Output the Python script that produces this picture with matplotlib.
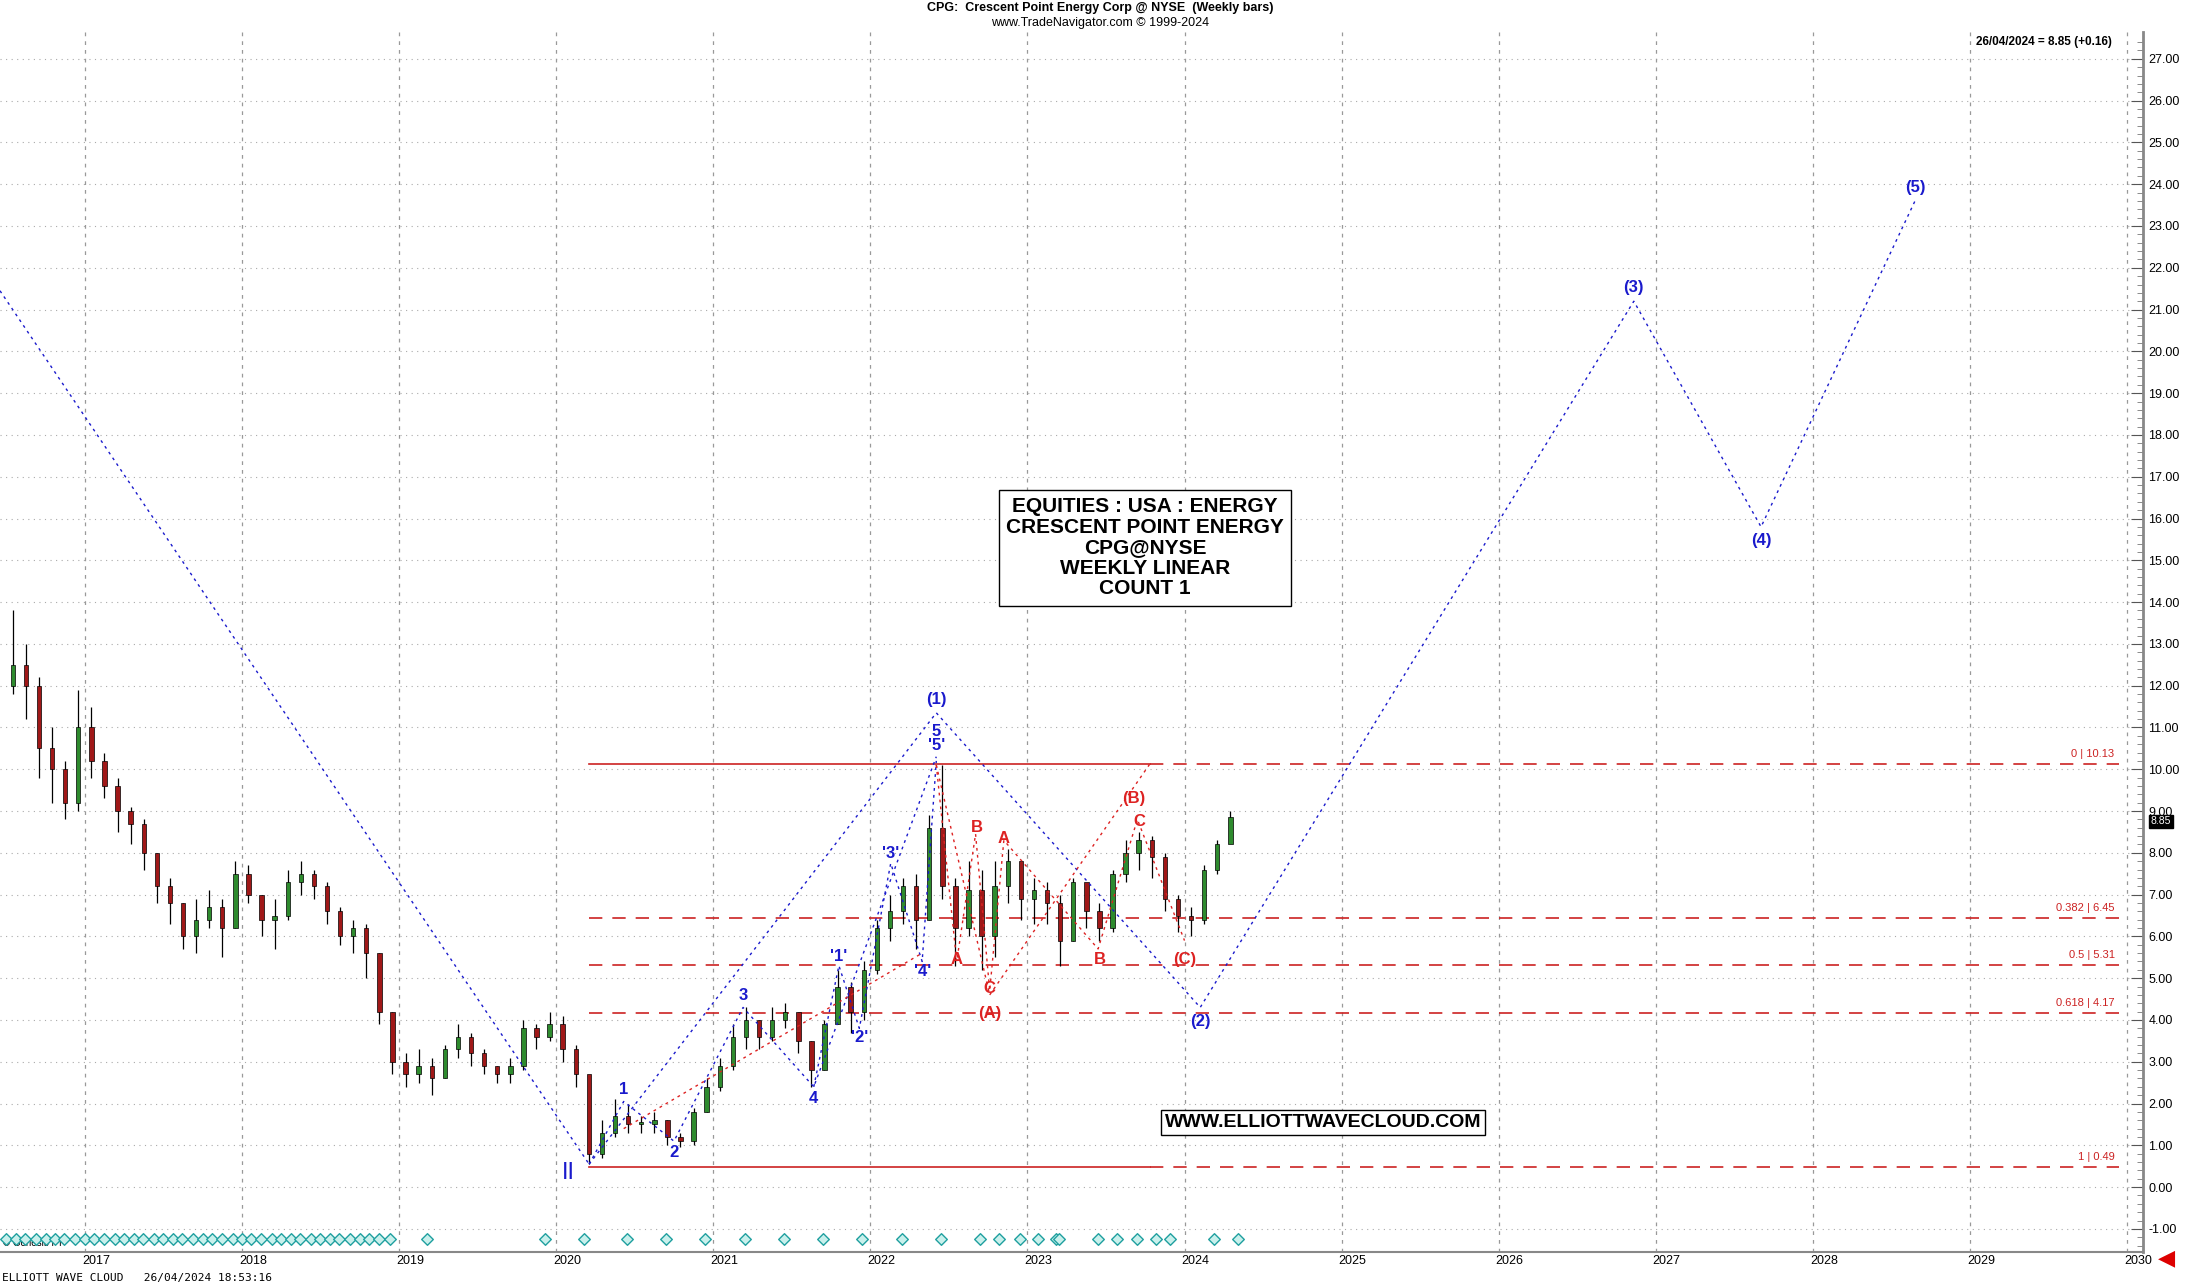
import matplotlib
matplotlib.use("Agg")
import matplotlib.pyplot as plt
from matplotlib.patches import Rectangle

plt.rcParams['font.family'] = ['Liberation Sans', 'DejaVu Sans']

# ---- data (monthly approximations of the weekly bars) ----
start_year, start_month = 2016, 7
highs = [13.8,13.0,12.2,11.0,10.2,11.9,
 11.5,10.4,9.8,9.1,8.8,8.0,7.4,6.8,6.9,7.1,6.9,7.8,
 7.7,7.0,6.9,7.6,7.8,7.6,7.3,6.7,6.4,6.3,5.6,4.2,
 3.2,3.3,3.1,3.4,3.9,3.7,3.3,2.9,3.1,4.0,3.9,4.2,
 4.1,3.4,2.6,1.6,2.1,2.0,1.7,1.8,1.6,1.3,1.9,2.6,
 3.1,3.9,4.3,4.0,4.3,4.4,4.2,3.5,4.0,5.2,4.9,5.4,
 6.4,7.0,7.4,7.5,8.9,10.1,7.4,7.8,7.6,7.8,8.1,7.8,
 7.4,7.3,7.0,7.4,7.2,6.8,7.6,8.3,8.5,8.4,8.0,7.0,
 6.7,7.7,8.3,9.0]
lows = [11.8,11.2,9.8,9.2,8.8,9.0,
 9.8,9.3,8.5,8.2,7.6,6.8,6.3,5.7,5.6,6.2,5.5,6.2,
 6.8,6.0,5.7,6.4,7.0,6.9,6.3,5.8,5.6,5.0,3.9,2.7,
 2.4,2.5,2.2,2.6,3.1,2.9,2.7,2.5,2.5,2.8,3.3,3.5,
 3.0,2.4,0.55,0.7,1.2,1.3,1.3,1.3,1.0,0.95,1.0,1.8,
 2.3,2.8,3.3,3.3,3.5,3.8,3.2,2.4,2.8,3.9,3.7,4.0,
 5.1,5.9,6.3,5.7,6.4,6.9,5.3,6.0,5.2,5.5,6.8,6.4,
 6.3,6.3,5.3,5.9,6.2,5.9,6.1,7.3,7.6,7.4,6.6,6.1,
 6.0,6.3,7.5,8.3]
closes = [12.5,12.0,10.5,10.0,9.2,11.0,
 10.2,9.6,9.0,8.7,8.0,7.2,6.8,6.0,6.4,6.7,6.2,7.5,
 7.0,6.4,6.5,7.3,7.5,7.2,6.6,6.0,6.2,5.6,4.2,3.0,
 2.7,2.9,2.6,3.3,3.6,3.2,2.9,2.7,2.9,3.8,3.6,3.9,
 3.3,2.7,0.8,1.3,1.7,1.5,1.5,1.6,1.2,1.1,1.8,2.4,
 2.9,3.6,4.0,3.6,4.0,4.2,3.5,2.8,3.9,4.8,4.2,5.2,
 6.2,6.6,7.2,6.4,8.6,7.2,6.2,7.1,6.0,7.2,7.8,6.9,
 7.1,6.8,5.9,7.3,6.6,6.2,7.5,8.0,8.3,7.9,6.9,6.5,
 6.4,7.6,8.2,8.85]
first_open = 12.0

# Elliott wave paths (time in decimal years, price)
big_a_t = [2016.46, 2020.21]; big_a_p = [21.45, 0.55]
major_t = [2020.21, 2022.42, 2024.10, 2026.86, 2027.67, 2028.65]
major_p = [0.55, 11.35, 4.30, 21.20, 15.80, 23.60]
major_lbl = ["", "(1)", "(2)", "(3)", "(4)", "(5)"]
minor_t = [2020.21, 2020.43, 2020.75, 2021.19, 2021.64, 2022.42]
minor_p = [0.55, 2.05, 1.10, 4.30, 2.40, 10.30]
minor_lbl = ["", "1", "2", "3", "4", "5"]
sub_t = [2021.64, 2021.80, 2021.93, 2022.13, 2022.33, 2022.42]
sub_p = [2.40, 5.30, 3.80, 7.75, 5.40, 10.20]
sub_lbl = ["", "'1'", "'2'", "'3'", "'4'", "'5'"]
corr_t = [2022.42, 2022.55, 2022.67, 2022.76, 2022.85, 2023.45, 2023.70, 2024.00]
corr_p = [10.10, 5.40, 8.45, 4.70, 8.30, 5.70, 8.80, 5.90]
corr_lbl = [("A", 2022.55, 5.45), ("B", 2022.68, 8.6), ("C", 2022.76, 4.75),
            ("(A)", 2022.76, 4.15), ("A", 2022.85, 8.35), ("B", 2023.46, 5.45),
            ("C", 2023.71, 8.75), ("(B)", 2023.68, 9.3), ("(C)", 2024.00, 5.45)]
chan1_t = [2022.76, 2023.78]; chan1_p = [4.60, 10.13]
chan2_t = [2020.43, 2022.33]; chan2_p = [1.40, 5.60]
chan3_t = [2022.42, 2022.76]; chan3_p = [10.10, 4.60]

fib_levels = [10.13, 6.45, 5.31, 4.17, 0.49]
fib_names = ["0", "0.382", "0.5", "0.618", "1"]

diamond_t = [2016.50,2016.56,2016.62,2016.69,2016.75,2016.81,2016.87,2016.94,
 2017.00,2017.06,2017.12,2017.19,2017.25,2017.31,2017.37,2017.44,2017.50,2017.56,
 2017.62,2017.69,2017.75,2017.81,2017.87,2017.94,2018.00,2018.06,2018.12,2018.19,
 2018.25,2018.31,2018.37,2018.44,2018.50,2018.56,2018.62,2018.69,2018.75,2018.81,
 2018.87,2018.94,2019.18,2019.93,2020.18,2020.45,2020.70,2020.95,2021.20,2021.45,
 2021.70,2021.95,2022.20,2022.45,2022.70,2022.82,2022.95,2023.07,2023.18,2023.20,
 2023.45,2023.57,2023.70,2023.82,2023.91,2024.19,2024.34]

years = list(range(2017, 2031))

# ---- figure ----
fig = plt.figure(figsize=(21.91, 12.84), dpi=100)
ax = fig.add_axes([0.0, 0.025, 0.978, 0.95])
ax.set_xlim(2016.46, 2030.1)
ax.set_ylim(-1.55, 27.64)

for y in range(-1, 28):
    ax.axhline(y, color="#aaaaaa", lw=0.8, ls=(0, (1, 4)), zorder=0)
for yr in years:
    ax.axvline(yr, color="#999999", lw=0.9, ls=(0, (3, 4)), zorder=0)

n = len(closes)
opens = [first_open] + closes[:-1]
for i in range(n):
    m = start_month - 1 + i
    t = start_year + m // 12 + (m % 12 + 0.5) / 12
    o, c, h, l = opens[i], closes[i], highs[i], lows[i]
    col = "#2e8b2e" if c >= o else "#a01818"
    ax.vlines(t, l, h, color="black", lw=0.9, zorder=3)
    ax.add_patch(Rectangle((t - 0.014, min(o, c)), 0.028, max(abs(c - o), 0.05),
                           facecolor=col, edgecolor="black", lw=0.5, zorder=4))

for lv, nm in zip(fib_levels, fib_names):
    if nm in ("0", "1"):
        ax.plot([2020.21, 2023.78], [lv, lv], color="#cc2222", lw=1.2, zorder=2)
        ax.plot([2023.78, 2029.95], [lv, lv], color="#cc2222", lw=1.2, ls=(0, (8, 6)), zorder=2)
    else:
        ax.plot([2020.21, 2029.95], [lv, lv], color="#cc2222", lw=1.2, ls=(0, (8, 6)), zorder=2)
    ax.text(2029.92, lv + 0.12, f"{nm} | {lv:.2f}", color="#cc2222", fontsize=8,
            ha="right", va="bottom", zorder=6)

blue = "#1a1acc"; red = "#dd2222"
dot = (0, (2, 3))
ax.plot(big_a_t, big_a_p, color=blue, lw=1, ls=dot, zorder=5)
ax.plot(major_t, major_p, color=blue, lw=1, ls=dot, zorder=5)
ax.plot(minor_t, minor_p, color=blue, lw=1, ls=dot, zorder=5)
ax.plot(sub_t, sub_p, color=blue, lw=1, ls=dot, zorder=5)
ax.plot(corr_t, corr_p, color=red, lw=1, ls=dot, zorder=5)
for tt, pp in [(chan1_t, chan1_p), (chan2_t, chan2_p), (chan3_t, chan3_p)]:
    ax.plot(tt, pp, color=red, lw=1, ls=dot, zorder=5)

lbl_kw = dict(fontsize=12, fontweight="bold", ha="center", zorder=7)
for t, p, s in zip(major_t, major_p, major_lbl):
    if s in ("(2)", "(4)"):
        ax.text(t, p - 0.15, s, color=blue, va="top", **lbl_kw)
    elif s:
        ax.text(t, p + 0.15, s, color=blue, va="bottom", **lbl_kw)
for t, p, s in zip(minor_t, minor_p, minor_lbl):
    if s in ("2", "4"):
        ax.text(t, p - 0.1, s, color=blue, va="top", **lbl_kw)
    elif s == "5":
        ax.text(t, 10.9, s, color=blue, va="center", **lbl_kw)
    elif s:
        ax.text(t, p + 0.1, s, color=blue, va="bottom", **lbl_kw)
for t, p, s in zip(sub_t, sub_p, sub_lbl):
    if s in ("'2'", "'4'"):
        ax.text(t, p - 0.05, s, color=blue, va="top", **lbl_kw)
    elif s == "'5'":
        ax.text(t, 10.4, s, color=blue, va="bottom", **lbl_kw)
    elif s:
        ax.text(t, p + 0.05, s, color=blue, va="bottom", **lbl_kw)
for s, t, p in corr_lbl:
    ax.text(t, p, s, color=red, va="center", **lbl_kw)
ax.text(2020.08, 0.35, "II", color=blue, fontsize=17, ha="center", va="center", zorder=7)

narrow = ['Liberation Sans Narrow', 'Liberation Sans', 'DejaVu Sans']
ax.text(2023.75, 15.3, "EQUITIES : USA : ENERGY\nCRESCENT POINT ENERGY\nCPG@NYSE\nWEEKLY LINEAR\nCOUNT 1",
        fontsize=15, fontweight="bold", family=narrow, ha="center", va="center",
        linespacing=1.1, zorder=8,
        bbox=dict(boxstyle="square,pad=0.35", fc="white", ec="black", lw=1))
ax.text(2024.88, 1.55, "WWW.ELLIOTTWAVECLOUD.COM", fontsize=14, fontweight="bold",
        family=narrow, ha="center", va="center", zorder=8,
        bbox=dict(boxstyle="square,pad=0.2", fc="white", ec="black", lw=1))

ax.scatter(diamond_t, [-1.23] * len(diamond_t), marker="D", s=35, facecolors="#c8f0ec",
           edgecolors="#20a0a0", lw=1, zorder=6, clip_on=False)
ax.text(2016.48, -1.45, "© Genesis FT", fontsize=7, va="bottom", ha="left")

ax.yaxis.tick_right()
ax.set_yticks(range(-1, 28))
ax.set_yticklabels([f"{y:.2f}" for y in range(-1, 28)], fontsize=9)
ax.set_yticks([y / 5 for y in range(-7, 138)], minor=True)
ax.tick_params(axis="y", which="major", length=9, direction="in", pad=4, color="#555555")
ax.tick_params(axis="y", which="minor", length=4, direction="in", color="#777777")
ax.set_xticks([y + 0.07 for y in years])
ax.set_xticklabels([str(y) for y in years], fontsize=9)
ax.tick_params(axis="x", length=0, pad=2)
for sp in ["top", "left"]:
    ax.spines[sp].set_visible(False)
ax.spines["right"].set_color("#888888"); ax.spines["right"].set_linewidth(2)
ax.spines["bottom"].set_color("#888888"); ax.spines["bottom"].set_linewidth(1.5)

ax.text(2029.9, 27.4, "26/04/2024 = 8.85 (+0.16)", fontsize=8.5, fontweight="bold",
        ha="right", va="center")
ax.text(2030.15, closes[-1] - 0.1, f"{closes[-1]:.2f}", fontsize=7.5, color="white", ha="left",
        va="center", zorder=10,
        bbox=dict(boxstyle="square,pad=0.15", fc="black", ec="black"), clip_on=False)

fig.text(0.502, 0.994, "CPG:  Crescent Point Energy Corp @ NYSE  (Weekly bars)", fontsize=9,
         fontweight="bold", ha="center", va="center")
fig.text(0.502, 0.982, "www.TradeNavigator.com © 1999-2024", fontsize=9, ha="center", va="center")
fig.text(0.001, 0.001, "ELLIOTT WAVE CLOUD   26/04/2024 18:53:16", fontsize=8,
         family="DejaVu Sans Mono", ha="left", va="bottom")
fig.text(0.985, 0.02, "\u25c0", fontsize=16, color="#dd0000", ha="left", va="center")

fig.savefig("out.png", dpi=100)
